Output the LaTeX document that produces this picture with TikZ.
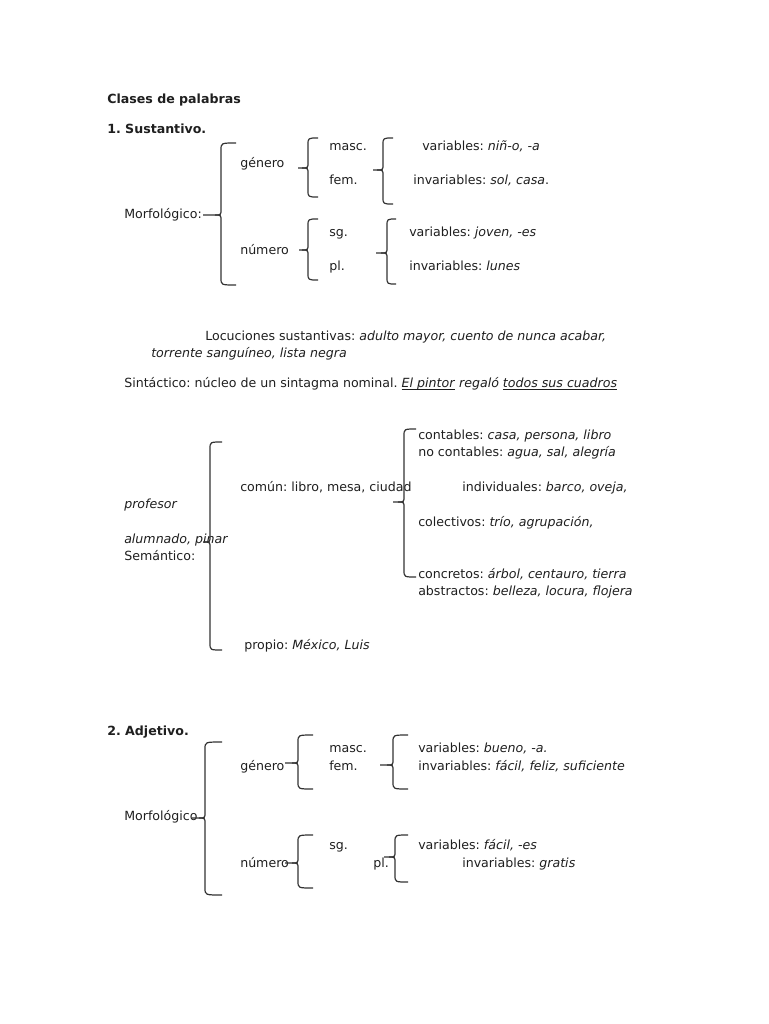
\documentclass[tikz,border=0pt]{standalone}
\usepackage{fontspec}
\setmainfont{DejaVu Sans}
\frenchspacing
\newcommand\mybrace[6]{%
 \draw[brc] (#4,#2) .. controls (#1,#2) .. (#1,#2+7) -- (#1,#6-6) .. controls (#1,#6) .. (#1-6,#6) -- (#5,#6);
 \draw[brc] (#1-6,#6) .. controls (#1,#6) .. (#1,#6+6) -- (#1,#3-7) .. controls (#1,#3) .. (#4,#3);
}
\newcommand\myul[1]{\setbox0\hbox{#1}\rlap{\rule[-1.4pt]{\wd0}{0.5pt}}\box0\relax}
\begin{document}
\begin{tikzpicture}[x=0.75pt,y=-0.75pt,
  txt/.style={anchor=base west,inner sep=0pt,text=black!88,font=\fontsize{9.45}{11}\selectfont},
  hd/.style={txt,font=\fontsize{9.45}{11}\selectfont\bfseries},
  brc/.style={draw=black!80,line width=0.9pt}]
\fill[white] (0,0) rectangle (768,1024);
\useasboundingbox (0,0) rectangle (768,1024);
% Section 1
\node[hd] (t1) at (107,103.5) {Clases de palabras};
\node[hd] (t2) at (107,133.5) {1. Sustantivo.};
\node[txt] (t3) at (240,167.5) {género};
\node[txt] (t4) at (329,150.5) {masc.};
\node[txt] (t5) at (329,184.5) {fem.};
\node[txt] (t6) at (422,150.5) {variables: \textit{niñ-o, -a}};
\node[txt] (t7) at (413,184.5) {invariables: \textit{sol, casa}.};
\node[txt] (t8) at (124,218.5) {Morfológico:};
\node[txt] (t9) at (240,254.5) {número};
\node[txt] (t10) at (329,236.5) {sg.};
\node[txt] (t11) at (329,270.5) {pl.};
\node[txt] (t12) at (409,236.5) {variables: \textit{joven, -es}};
\node[txt] (t13) at (409,270.5) {invariables: \textit{lunes}};
\mybrace{221}{143}{285}{236}{203}{215}
\mybrace{308}{138}{197}{318}{298}{168}
\mybrace{383}{138}{204}{393}{373}{170}
\mybrace{308}{219}{280}{318}{299}{250}
\mybrace{387}{219}{284}{396}{376}{253}
\node[txt] (t14) at (205,340.5) {Locuciones sustantivas: \textit{adulto mayor, cuento de nunca acabar,}};
\node[txt] (t15) at (151,357.5) {\textit{torrente sanguíneo, lista negra}};
\node[txt] (t16) at (124,387.5) {Sintáctico: núcleo de un sintagma nominal. \myul{\textit{El pintor}} \textit{regaló} \myul{\textit{todos sus cuadros}}};
% Semantico
\node[txt] (t17) at (418,439.5) {contables: \textit{casa, persona, libro}};
\node[txt] (t18) at (418,456.5) {no contables: \textit{agua, sal, alegría}};
\node[txt] (t19) at (240,491.5) {común: libro, mesa, ciudad};
\node[txt] (t20) at (462,491.5) {individuales: \textit{barco, oveja,}};
\node[txt] (t21) at (124,508.5) {\textit{profesor}};
\node[txt] (t22) at (418,526.5) {colectivos: \textit{trío, agrupación,}};
\node[txt] (t23) at (124,543.5) {\textit{alumnado, pinar}};
\node[txt] (t24) at (124,560.5) {Semántico:};
\node[txt] (t25) at (418,578.5) {concretos: \textit{árbol, centauro, tierra}};
\node[txt] (t26) at (418,595.5) {abstractos: \textit{belleza, locura, flojera}};
\node[txt] (t27) at (244,649.5) {propio: \textit{México, Luis}};
\mybrace{210}{442}{650}{222}{203}{542}
\mybrace{404}{429}{577}{416}{393}{502}
% Section 2
\node[hd] (t28) at (107,735.5) {2. Adjetivo.};
\node[txt] (t29) at (329,752.5) {masc.};
\node[txt] (t30) at (418,752.5) {variables: \textit{bueno, -a.}};
\node[txt] (t31) at (240,770.5) {género};
\node[txt] (t32) at (329,770.5) {fem.};
\node[txt] (t33) at (418,770.5) {invariables: \textit{fácil, feliz, suficiente}};
\node[txt] (t34) at (124,820.5) {Morfológico};
\node[txt] (t35) at (329,849.5) {sg.};
\node[txt] (t36) at (418,849.5) {variables: \textit{fácil, -es}};
\node[txt] (t37) at (240,867.5) {número};
\node[txt] (t38) at (373,867.5) {pl.};
\node[txt] (t39) at (462,867.5) {invariables: \textit{gratis}};
\mybrace{205}{742}{895}{222}{192}{818}
\mybrace{298}{735}{789}{313}{285}{763}
\mybrace{393}{735}{789}{408}{380}{765}
\mybrace{298}{835}{888}{313}{285}{863}
\mybrace{395}{835}{882}{408}{384}{857}
\end{tikzpicture}
\end{document}
